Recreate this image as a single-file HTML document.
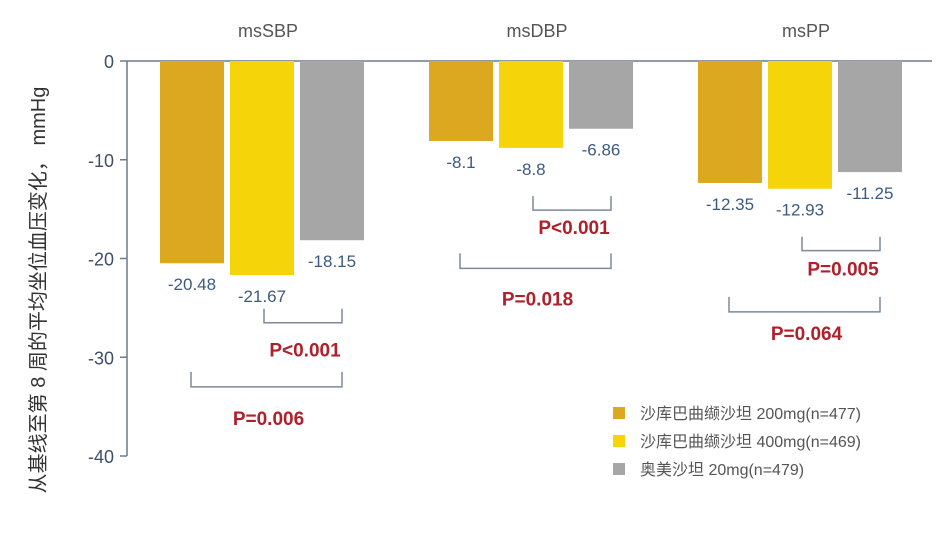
<!DOCTYPE html>
<html><head><meta charset="utf-8">
<style>
body{margin:0;background:#fff;}
svg{display:block;font-family:"Liberation Sans","Noto Sans CJK SC",sans-serif;}
</style></head>
<body>
<svg id="chart" width="944" height="535" viewBox="0 0 944 535" xmlns="http://www.w3.org/2000/svg">
<text transform="translate(45,290) rotate(-90)" text-anchor="middle" font-size="20" fill="#333">从基线至第 8 周的平均坐位血压变化，  mmHg</text>
<g id="axis"></g>
<g id="bars"></g>
<g id="legend"></g>
</svg>
<script>
const groups = ["msSBP","msDBP","msPP"];
const series = ["沙库巴曲缬沙坦 200mg(n=477)","沙库巴曲缬沙坦 400mg(n=469)","奥美沙坦 20mg(n=479)"];
const s200 = [-20.48, -8.1, -12.35];
const s400 = [-21.67, -8.8, -12.93];
const olm = [-18.15, -6.86, -11.25];
const labels200 = ["-20.48","-8.1","-12.35"];
const labels400 = ["-21.67","-8.8","-12.93"];
const labelsOlm = ["-18.15","-6.86","-11.25"];
const pSmall = ["P<0.001","P<0.001","P=0.005"];
const pBig = ["P=0.006","P=0.018","P=0.064"];
const ySmall = [-26.5, -15.1, -19.2];
const yBig = [-33, -21, -25.4];
const yTicks = [0,-10,-20,-30,-40];

const NS="http://www.w3.org/2000/svg";
const y = v => 61 + (-v) * 9.875;
const gx = i => 160 + i * 269;
const colors = ["#dca820","#f5d50a","#a7a6a6"];
const smallOff = [34, 24, 25];
const bigOff = [38, 37, 28];
function mk(tag, attrs, parent, text){
  const e=document.createElementNS(NS,tag);
  for(const k in attrs) e.setAttribute(k,attrs[k]);
  if(text!==undefined) e.textContent=text;
  parent.appendChild(e); return e;
}
const axis=document.getElementById('axis');
const bars=document.getElementById('bars');
const legend=document.getElementById('legend');
let a=mk('line',{x1:127,y1:y(0),x2:127,y2:y(-40),stroke:'#6b7a8c','stroke-width':1.5},axis);


a=mk('line',{x1:127,y1:y(0),x2:932,y2:y(0),stroke:'#6b7a8c','stroke-width':1.5},axis);


yTicks.forEach(t=>{
  const l=mk('line',{x1:120,y1:y(t),x2:127,y2:y(t),stroke:'#6b7a8c','stroke-width':1.5},axis);
  
  
  const tx=mk('text',{x:114,y:y(t)+7,'text-anchor':'end','font-size':18,fill:'#3f4f66'},axis,String(t));
  
  
});
const all=[s200,s400,olm];
const labs=[labels200,labels400,labelsOlm];
groups.forEach((g,i)=>{
  const t=mk('text',{x:gx(i)+108,y:37,'text-anchor':'middle','font-size':18,fill:'#555'},bars,g);
  
  
  all.forEach((s,j)=>{
    const x=gx(i)+j*70;
    const r=mk('rect',{x:x,y:y(0),width:64,height:y(s[i])-y(0),fill:colors[j]},bars);
    
    
    const v=mk('text',{x:x+32,y:y(s[i])+27,'text-anchor':'middle','font-size':17,fill:'#3d5a80'},bars,labs[j][i]);
    
    
  });
  const cO=gx(i)+31, cY=gx(i)+70+34, cG=gx(i)+140+42;
  const sb=mk('path',{d:`M${cY} ${y(ySmall[i])-14} V${y(ySmall[i])} H${cG} V${y(ySmall[i])-14}`,fill:'none',stroke:'#7b8a9c','stroke-width':1.5},bars);
  
  
  const sp=mk('text',{x:(cY+cG)/2+2,y:y(ySmall[i])+smallOff[i],'text-anchor':'middle','font-size':19,'font-weight':'bold',fill:'#b0202a'},bars,pSmall[i]);
  
  
  const bb=mk('path',{d:`M${cO} ${y(yBig[i])-15} V${y(yBig[i])} H${cG} V${y(yBig[i])-15}`,fill:'none',stroke:'#7b8a9c','stroke-width':1.5},bars);
  
  
  const bp=mk('text',{x:(cO+cG)/2+2,y:y(yBig[i])+bigOff[i],'text-anchor':'middle','font-size':19,'font-weight':'bold',fill:'#b0202a'},bars,pBig[i]);
  
  
});
series.forEach((s,j)=>{
  const r=mk('rect',{x:613,y:407+j*28,width:12,height:12,fill:colors[j]},legend);
  
  
  const t=mk('text',{x:640,y:419+j*28,'font-size':16,fill:'#555'},legend,s);
  
  
});
</script>
</body></html>
